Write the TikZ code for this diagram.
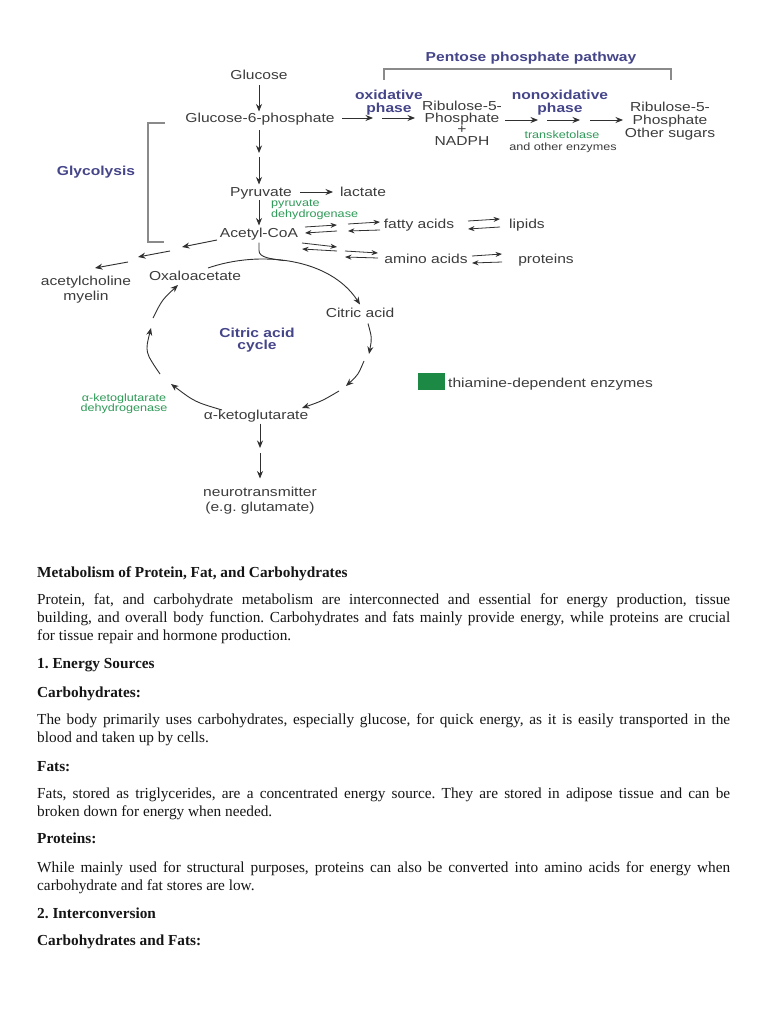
\documentclass[tikz,border=0pt]{standalone}
\usepackage{fontspec}
\setmainfont{Liberation Serif}
\newfontfamily\dgfont[FakeStretch=1.2]{Liberation Sans}
\usetikzlibrary{arrows.meta,calc}
\definecolor{dtxt}{HTML}{3C3C3C}
\definecolor{darr}{HTML}{303030}
\definecolor{dblue}{HTML}{45458A}
\definecolor{dgreen}{HTML}{2F9A58}
\definecolor{dleg}{HTML}{1C8A45}
\definecolor{btxt}{HTML}{151515}
\definecolor{dbrk}{HTML}{8A8A8A}
\newcommand\jline[1]{\hbox to 693pt{#1}}
\newcommand\nline[1]{\hbox{#1}}
\frenchspacing
\begin{document}
\begin{tikzpicture}[x=1pt,y=-1pt,
  lbl/.style={inner sep=0pt, anchor=base, text=dtxt, align=center, font=\dgfont\fontsize{13}{13}\selectfont},
  blab/.style={lbl, text=dblue, font=\dgfont\bfseries\fontsize{13}{13}\selectfont},
  glab/.style={lbl, text=dgreen, font=\dgfont\fontsize{10.5}{11}\selectfont},
  slab/.style={lbl, font=\dgfont\fontsize{10.5}{11}\selectfont},
  arr/.style={draw=darr, line width=0.9pt, -{Stealth[length=7.5pt,width=6pt]}},
  eqa/.style={draw=darr, line width=0.8pt, -{Stealth[length=6.5pt,width=5pt]}},
  lin/.style={draw=darr, line width=0.9pt},
  brk/.style={draw=dbrk, line width=1.6pt},
  head/.style={inner sep=0pt, anchor=base west, text=btxt, font=\bfseries\fontsize{15.3}{18.3}\selectfont},
  para/.style={inner sep=0pt, anchor=base west, text=btxt, font=\fontsize{15.3}{18.3}\selectfont},
]
\fill[white] (0,0) rectangle (768,1024);
\useasboundingbox (0,0) rectangle (768,1024);

% ---------- diagram labels (base = baseline of last line) ----------
\node[blab] (ppp) at (531,61.7) {Pentose phosphate pathway};
\node[lbl] (glc) at (259,79.5) {Glucose};
\node[lbl] (g6p) at (260,122.5) {Glucose-6-phosphate};
\node[blab] (oxph) at (389,112.5) {oxidative\\phase};
\node[lbl, font=\dgfont\fontsize{13}{11.7}\selectfont] (ru5p) at (462,145.6) {Ribulose-5-\\Phosphate\\+\\NADPH};
\node[blab] (noxph) at (560,112.5) {nonoxidative\\phase};
\node[glab] (tk) at (562,138.8) {transketolase};
\node[slab] (aoe) at (563,150.8) {and other enzymes};
\node[lbl] (ru5p2) at (670,137.5) {Ribulose-5-\\Phosphate\\Other sugars};
\node[blab] (glyc) at (96,175.7) {Glycolysis};
\node[lbl] (pyr) at (261,196.5) {Pyruvate};
\node[lbl] (lac) at (363,196.5) {lactate};
\node[glab, anchor=base west, align=left] (pdh) at (271,217.8) {pyruvate\\dehydrogenase};
\node[lbl] (acc) at (259,237.5) {Acetyl-CoA};
\node[lbl] (fa) at (419,228.5) {fatty acids};
\node[lbl] (lip) at (527,228.5) {lipids};
\node[lbl] (aa) at (426,263.5) {amino acids};
\node[lbl] (prot) at (546,263.5) {proteins};
\node[lbl, font=\dgfont\fontsize{13}{15}\selectfont] (ach) at (86,300.5) {acetylcholine\\myelin};
\node[lbl] (oxa) at (195,280.5) {Oxaloacetate};
\node[lbl] (cit) at (360,317.5) {Citric acid};
\node[blab, font=\dgfont\bfseries\fontsize{13}{12}\selectfont] (tca) at (257,349.5) {Citric acid\\cycle};
\node[lbl] (akg) at (256,419.5) {α-ketoglutarate};
\node[glab, font=\dgfont\fontsize{10.5}{10.5}\selectfont] (akgdh) at (124,411.8) {α-ketoglutarate\\dehydrogenase};
\node[lbl, font=\dgfont\fontsize{13}{15}\selectfont] (nt) at (260,511.5) {neurotransmitter\\(e.g. glutamate)};
\node[fill=dleg, minimum width=27pt, minimum height=17pt, inner sep=0pt, anchor=north west] (legbox) at (418,373) {};
\node[lbl, anchor=base west] (legtxt) at (448,387.5) {thiamine-dependent enzymes};

% ---------- brackets ----------
\draw[brk] (384,80) -- (384,69) -- (671,69) -- (671,80);
\draw[brk] (165,123) -- (148,123) -- (148,242) -- (164,242);

% ---------- glycolysis ----------
\draw[arr] ($(glc.base)+(0,6)$) -- ($(g6p.base)+(-1,-11)$);
\coordinate (gp1) at (259,153);
\coordinate (gp2) at (259,157);
\draw[arr] ($(g6p.base)+(-1,8)$) -- (gp1);
\draw[arr] (gp2) -- ($(pyr.base)+(-2,-12)$);
\draw[arr] ($(pyr.base)+(39,-4.5)$) -- ($(lac.base)+(-30,-4.5)$);
\draw[arr] ($(pyr.base)+(-2,4)$) -- ($(acc.base)+(0,-12)$);

% ---------- pentose phosphate ----------
\coordinate (ox1) at (373,118);
\coordinate (ox2) at (382,118);
\draw[arr] ($(g6p.base)+(82,-4.5)$) -- (ox1);
\draw[arr] (ox2) -- ($(ru5p.base)+(-47,-27.6)$);
\coordinate (nx1) at (538,120);
\coordinate (nx2) at (547,120);
\coordinate (nx3) at (580,120);
\coordinate (nx4) at (590,120);
\draw[arr] ($(ru5p.base)+(43,-25.6)$) -- (nx1);
\draw[arr] (nx2) -- (nx3);
\draw[arr] (nx4) -- ($(ru5p2.base)+(-47,-17.5)$);

% ---------- acetyl-CoA to acetylcholine ----------
\coordinate (a1) at (182,247);
\coordinate (a2) at (170,251);
\coordinate (a3) at (138,257);
\coordinate (a4) at (128,262);
\draw[arr] ($(acc.base)+(-42,2.5)$) -- (a1);
\draw[arr] (a2) -- (a3);
\draw[arr] (a4) -- ($(ach.base)+(9,-32.5)$);

% ---------- equilibria ----------
\coordinate (e1u) at (337,225);
\coordinate (e1l) at (337,231);
\coordinate (e2u) at (348,224);
\coordinate (e2l) at (348,231);
\draw[eqa] ($(acc.base)+(46,-10.5)$) -- (e1u);
\draw[eqa] (e1l) -- ($(acc.base)+(46,-4.5)$);
\draw[eqa] (e2u) -- ($(fa.base)+(-39,-6.5)$);
\draw[eqa] ($(fa.base)+(-39,1.5)$) -- (e2l);
\draw[eqa] ($(fa.base)+(49,-7.5)$) -- ($(lip.base)+(-27,-9.5)$);
\draw[eqa] ($(lip.base)+(-27,-1.5)$) -- ($(fa.base)+(49,0.5)$);
\coordinate (e3u) at (337,247);
\coordinate (e3l) at (337,251);
\coordinate (e4u) at (345,251);
\coordinate (e4l) at (345,257);
\draw[eqa] ($(acc.base)+(43,5.5)$) -- (e3u);
\draw[eqa] (e3l) -- ($(acc.base)+(43,11.5)$);
\draw[eqa] (e4u) -- ($(aa.base)+(-48,-10.5)$);
\draw[eqa] ($(aa.base)+(-48,-5.5)$) -- (e4l);
\draw[eqa] ($(aa.base)+(46,-7.5)$) -- ($(prot.base)+(-44,-9.5)$);
\draw[eqa] ($(prot.base)+(-44,-1.5)$) -- ($(aa.base)+(46,-0.5)$);

% ---------- citric acid cycle ----------
\coordinate (merge) at (284,260.6);
\draw[arr] ($(oxa.base)+(13,-12.5)$) .. controls (260,250) and (330,258) .. ($(cit.base)+(0,-13)$);
\draw[lin] ($(acc.base)+(0,5)$) -- ($(acc.base)+(0,13)$) .. controls ($(acc.base)+(0,20)$) and (270,258.7) .. (merge);
\coordinate (c1) at (369,354);
\coordinate (c2) at (364,361);
\coordinate (c3) at (346,386);
\coordinate (c4) at (339,391);
\draw[arr] ($(cit.base)+(8,6)$) .. controls (372,338) .. (c1);
\draw[arr] (c2) .. controls (358,375) .. (c3);
\draw[arr] (c4) .. controls (322,401) .. ($(akg.base)+(46,-11.5)$);
\coordinate (k1) at (171,384);
\coordinate (k2) at (160,374);
\coordinate (k3) at (151,328);
\coordinate (k4) at (153,318);
\draw[arr] ($(akg.base)+(-34,-9.5)$) .. controls (195,402) .. (k1);
\draw[arr] (k2) .. controls (145,352) .. (k3);
\draw[arr] (k4) .. controls (162,300) .. ($(oxa.base)+(-17,4.5)$);

% ---------- to neurotransmitter ----------
\coordinate (n1) at (260,448);
\coordinate (n2) at (260,453);
\draw[arr] ($(akg.base)+(4,4)$) -- (n1);
\draw[arr] (n2) -- ($(nt.base)+(0,-33)$);

% ---------- text ----------
\node[head] (h1) at (37,577) {Metabolism of Protein, Fat, and Carbohydrates};
\node[para] (p1) at (37,604) {\vtop{%
\jline{Protein, fat, and carbohydrate metabolism are interconnected and essential for energy production, tissue}
\jline{building, and overall body function. Carbohydrates and fats mainly provide energy, while proteins are crucial}
\nline{for tissue repair and hormone production.}}};
\node[head] (h2) at (37,668) {1. Energy Sources};
\node[head] (h3) at (37,697) {Carbohydrates:};
\node[para] (p2) at (37,724) {\vtop{%
\jline{The body primarily uses carbohydrates, especially glucose, for quick energy, as it is easily transported in the}
\nline{blood and taken up by cells.}}};
\node[head] (h4) at (37,771) {Fats:};
\node[para] (p3) at (37,798) {\vtop{%
\jline{Fats, stored as triglycerides, are a concentrated energy source. They are stored in adipose tissue and can be}
\nline{broken down for energy when needed.}}};
\node[head] (h5) at (37,843) {Proteins:};
\node[para] (p4) at (37,872) {\vtop{%
\jline{While mainly used for structural purposes, proteins can also be converted into amino acids for energy when}
\nline{carbohydrate and fat stores are low.}}};
\node[head] (h6) at (37,918) {2. Interconversion};
\node[head] (h7) at (37,945) {Carbohydrates and Fats:};
\end{tikzpicture}
\end{document}
